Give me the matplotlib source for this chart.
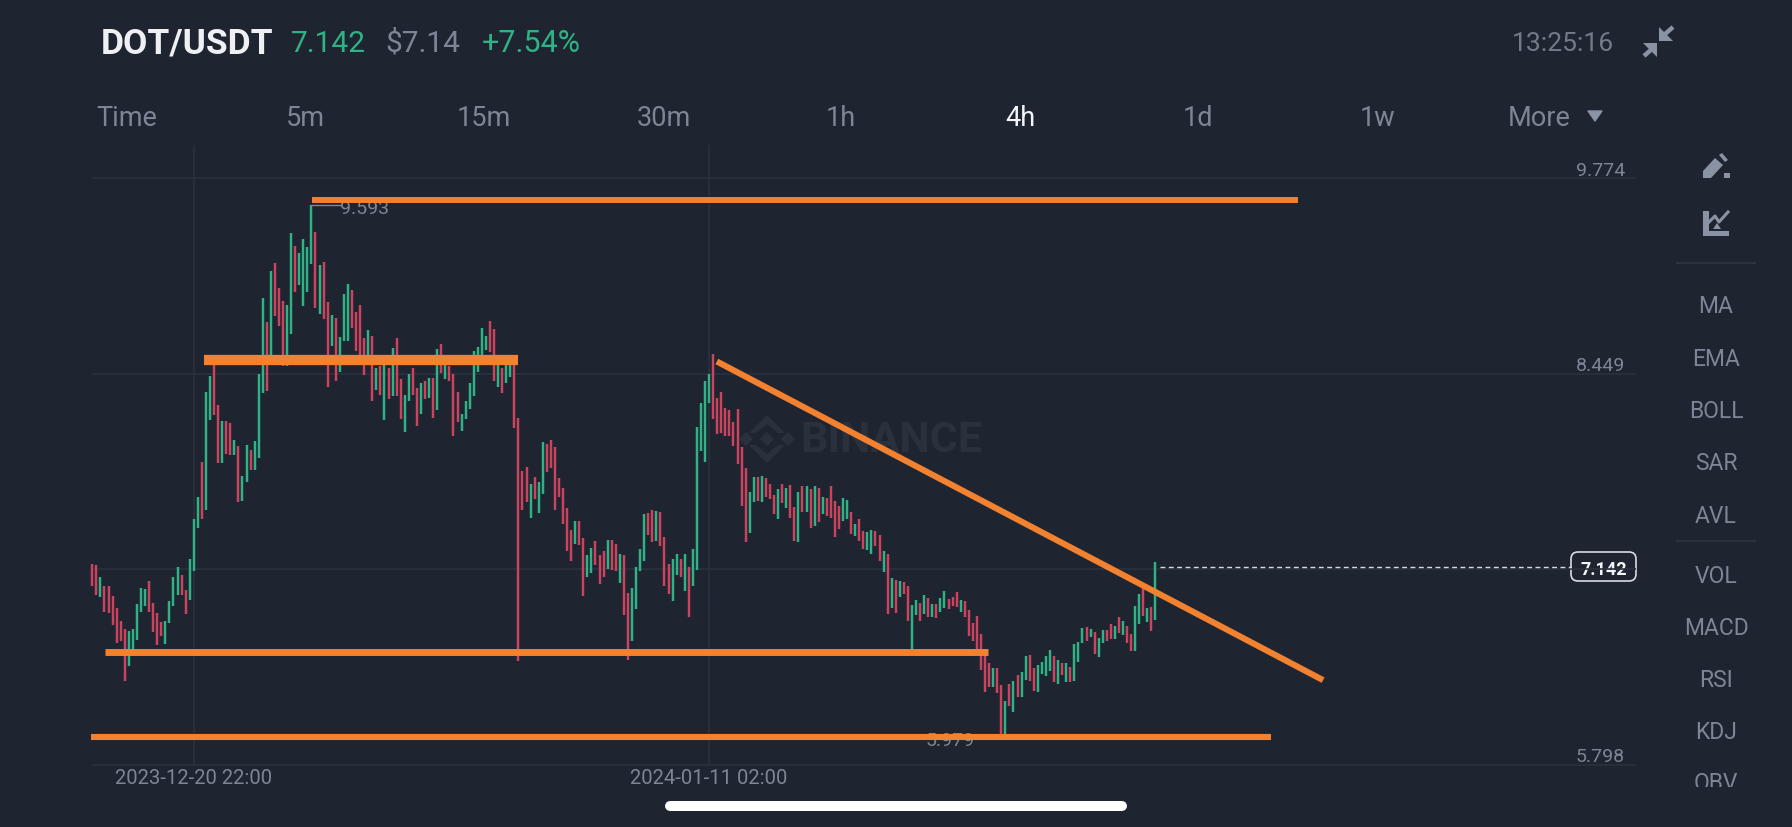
import matplotlib
matplotlib.use('Agg')
import matplotlib.pyplot as plt
from matplotlib.patches import Polygon, Rectangle, FancyBboxPatch

plt.rcParams['font.family'] = ['Roboto', 'DejaVu Sans']

# candle ranges, one pair per 4h bar (wicks are not visible at this zoom)
tops = [
    7.159, 7.154, 7.069, 7.012, 7.008, 6.940, 6.859, 6.775, 6.718, 6.703,
    6.718, 6.888, 6.998, 6.990, 7.048, 6.893, 6.825, 6.764, 6.775, 6.910,
    7.075, 7.137, 7.084, 6.985, 7.193, 7.468, 7.617, 7.852, 8.322, 8.434,
    8.575, 8.236, 8.130, 8.132, 8.114, 7.997, 7.956, 7.753, 7.965, 7.931,
    7.994, 8.446, 8.959, 8.800, 9.142, 9.198, 9.029, 8.943, 8.913, 9.401,
    9.311, 9.270, 9.365, 9.308, 9.593, 9.406, 9.187, 9.209, 8.936, 8.848,
    8.827, 8.695, 8.986, 9.060, 9.017, 8.864, 8.913, 8.688, 8.746, 8.706,
    8.491, 8.502, 8.514, 8.491, 8.622, 8.688, 8.412, 8.304, 8.446, 8.487,
    8.349, 8.385, 8.403, 8.421, 8.417, 8.616, 8.647, 8.548, 8.502, 8.446,
    8.322, 8.175, 8.265, 8.385, 8.600, 8.631, 8.762, 8.706, 8.807, 8.751,
    8.514, 8.485, 8.514, 8.528, 8.548, 8.148, 7.787, 7.814, 7.699, 7.751,
    7.715, 7.988, 7.974, 7.997, 7.952, 7.742, 7.672, 7.537, 7.387, 7.450,
    7.450, 7.337, 7.222, 7.270, 7.313, 7.222, 7.245, 7.324, 7.324, 7.295,
    7.229, 7.220, 6.963, 6.994, 7.137, 7.261, 7.498, 7.507, 7.527, 7.516,
    7.513, 7.344, 7.159, 7.193, 7.227, 7.193, 7.227, 7.137, 7.261, 8.089,
    8.250, 8.399, 8.448, 8.580, 8.286, 8.322, 8.214, 8.200, 8.119, 8.209,
    7.950, 7.810, 7.645, 7.749, 7.747, 7.753, 7.740, 7.699, 7.627, 7.667,
    7.699, 7.672, 7.694, 7.543, 7.645, 7.686, 7.686, 7.667, 7.690, 7.672,
    7.611, 7.604, 7.686, 7.588, 7.550, 7.604, 7.595, 7.509, 7.430, 7.464,
    7.385, 7.374, 7.389, 7.383, 7.356, 7.247, 7.227, 7.062, 7.053, 7.046,
    7.035, 7.008, 6.881, 6.917, 6.895, 6.951, 6.929, 6.886, 6.890, 6.929,
    6.974, 6.922, 6.934, 6.971, 6.915, 6.910, 6.847, 6.759, 6.809, 6.685,
    6.549, 6.486, 6.452, 6.455, 6.341, 6.233, 6.346, 6.364, 6.407, 6.425,
    6.538, 6.543, 6.452, 6.475, 6.497, 6.534, 6.578, 6.538, 6.509, 6.488,
    6.486, 6.461, 6.617, 6.633, 6.726, 6.730, 6.718, 6.696, 6.660, 6.712,
    6.714, 6.752, 6.737, 6.798, 6.775, 6.737, 6.685, 6.877, 6.956, 6.997,
    6.859, 6.866, 7.171,
]
bottoms = [
    7.008, 6.949, 6.937, 6.832, 6.825, 6.748, 6.624, 6.635, 6.364, 6.466,
    6.549, 6.644, 6.836, 6.876, 6.832, 6.700, 6.610, 6.669, 6.617, 6.759,
    6.872, 6.949, 6.951, 6.820, 6.915, 7.113, 7.407, 7.468, 7.527, 8.134,
    8.170, 7.843, 7.843, 7.906, 7.899, 7.897, 7.577, 7.584, 7.712, 7.798,
    7.798, 7.875, 8.317, 8.329, 8.568, 8.837, 8.773, 8.498, 8.498, 8.717,
    9.004, 9.049, 8.909, 9.000, 9.191, 8.893, 8.852, 8.819, 8.356, 8.638,
    8.403, 8.461, 8.672, 8.668, 8.762, 8.604, 8.570, 8.441, 8.548, 8.261,
    8.338, 8.306, 8.137, 8.281, 8.299, 8.299, 8.141, 8.051, 8.265, 8.306,
    8.096, 8.175, 8.277, 8.284, 8.148, 8.204, 8.453, 8.412, 8.397, 8.024,
    8.123, 8.062, 8.139, 8.209, 8.299, 8.461, 8.570, 8.611, 8.593, 8.397,
    8.360, 8.317, 8.385, 8.428, 8.081, 6.504, 7.527, 7.581, 7.471, 7.599,
    7.505, 7.633, 7.780, 7.810, 7.527, 7.615, 7.430, 7.245, 7.177, 7.295,
    7.290, 6.944, 7.069, 7.098, 7.154, 7.024, 7.073, 7.125, 7.118, 7.113,
    7.032, 6.816, 6.511, 6.639, 6.854, 7.110, 7.181, 7.358, 7.306, 7.313,
    7.279, 7.008, 6.956, 6.906, 7.084, 7.069, 6.978, 6.802, 7.008, 7.118,
    7.927, 7.852, 8.250, 8.141, 8.040, 8.047, 8.028, 8.024, 7.961, 7.837,
    7.554, 7.310, 7.369, 7.581, 7.588, 7.577, 7.611, 7.599, 7.498, 7.464,
    7.572, 7.537, 7.469, 7.317, 7.310, 7.509, 7.509, 7.405, 7.415, 7.442,
    7.498, 7.482, 7.469, 7.340, 7.396, 7.448, 7.464, 7.362, 7.347, 7.317,
    7.261, 7.254, 7.227, 7.279, 7.177, 7.107, 6.820, 6.859, 6.825, 6.934,
    6.956, 6.771, 6.572, 6.814, 6.775, 6.820, 6.798, 6.798, 6.793, 6.836,
    6.859, 6.854, 6.872, 6.866, 6.836, 6.800, 6.673, 6.639, 6.549, 6.443,
    6.294, 6.324, 6.324, 6.283, 5.979, 5.979, 6.195, 6.154, 6.260, 6.260,
    6.373, 6.368, 6.297, 6.290, 6.416, 6.402, 6.436, 6.358, 6.344, 6.407,
    6.362, 6.362, 6.368, 6.497, 6.622, 6.639, 6.662, 6.549, 6.527, 6.622,
    6.639, 6.651, 6.651, 6.690, 6.678, 6.622, 6.568, 6.568, 6.756, 6.809,
    6.764, 6.707, 6.782,
]
# G = close above open, R = close below open
directions = (
    'RRGRRRRRRG' 'GGGGRRRRGG' 'GGRRGGGRGG' 'RRGRRGRGGR' 'GGGRGRRRGG'
    'RGGGGRGRRG' 'RGGGRRRRGR' 'GRGRGRRGGR' 'RGRGRGRGRR' 'RGGGGGGGRR'
    'GRGGRRRRGR' 'GGRRRRRRRG' 'RRGGRRRGRR' 'GRRGGGGRRG' 'RRRGGRGRGG'
    'GGGRRRRRRR' 'RRGGRGRRRG' 'RGRRGRGRGR' 'GRRRRGGRGR' 'RGGRRGRGRG'
    'RRGGRGRGRG' 'GRRRGRRRRR' 'RRGRRGRGRG' 'GRRGGGGRGR' 'GRGGGRGRGG'
    'RRGRGRRGGR' 'GRG'
)

price_ticks = [9.774, 8.449, 7.123, 5.798]
price_labels = ['9.774', '8.449', None, '5.798']
time_ticks = [25, 152]
time_labels = ['2023-12-20 22:00', '2024-01-11 02:00']
last_price = 7.142
high_price = 9.593
high_bar = 54
low_price = 5.979
low_bar = 224

# hand drawn levels: first bar, last bar, price at each end, thickness
level_x = [(54.1, 297.1), (27.5, 104.8), (3.1, 220.7), (-0.2, 290.5), (153.9, 303.3)]
level_y = [(9.625, 9.625), (8.543, 8.543), (6.563, 6.563), (5.987, 5.987), (8.532, 6.373)]
level_lw = [4.3, 7.4, 5.0, 4.4, 4.4]

tabs = ['Time', '5m', '15m', '30m', '1h', '4h', '1d', '1w', 'More']
tab_x = [127, 305, 484, 664, 841, 1020, 1198, 1377, 1539]
indicators = ['MA', 'EMA', 'BOLL', 'SAR', 'AVL', 'VOL', 'MACD', 'RSI', 'KDJ', 'OBV']
indicator_y = [307, 360, 412, 464, 517, 577, 629, 681, 733, 784]

BG = '#1e2530'
GRID = '#2b323d'
GREEN = '#2fb386'
RED = '#cc4360'
ORANGE = '#f28130'
GREY = '#7d8596'
ICON = '#8a93a3'
WM = '#2a313c'

W, H = 1792, 828
BAR0, BAR_STEP = 92.3, 4.058
PLOT_L, PLOT_R, PLOT_T, PLOT_B = BAR0 - BAR_STEP / 2, 1636, 146, 766
PX_PER_PRICE = 147.6

fig = plt.figure(figsize=(W / 100, H / 100), dpi=100, facecolor=BG)

# page layer in screen pixels, sits behind the chart
ui = fig.add_axes([0, 0, 1, 1])
ui.set_xlim(0, W)
ui.set_ylim(H, 0)
ui.axis('off')

ui.text(101, 44, 'DOT/USDT', color='#eef0f4', fontsize=25.5, fontweight='bold', va='center')
ui.text(291, 44, '7.142', color=GREEN, fontsize=21.5, va='center')
ui.text(385, 44, '$7.14', color=GREY, fontsize=21.5, va='center')
ui.text(482, 44, '+7.54%', color=GREEN, fontsize=22, va='center')
ui.text(1614, 44, '13:25:16', color='#727b8a', fontsize=19, va='center', ha='right')

for name, x in zip(tabs, tab_x):
    ui.text(x, 119, name, color='#f4f5f7' if name == '4h' else GREY, fontsize=19.5,
            ha='center', va='center')
ui.add_patch(Polygon([(1588, 112), (1602, 112), (1595, 122)], closed=True, fc=ICON, ec=ICON,
                     lw=1, joinstyle='round'))

for name, y in zip(indicators, indicator_y):
    t = ui.text(1716, y, name, color=GREY, fontsize=16.5, ha='center', va='center')
    if name == 'OBV':
        t.set_clip_path(Rectangle((1600, 700), 192, 88, transform=ui.transData))
        t.set_clip_on(True)
ui.plot([1677, 1755], [264, 264], color=GRID, lw=1.5)
ui.plot([1677, 1755], [542, 542], color=GRID, lw=1.5)

# shrink icon
ui.add_patch(Polygon([(1659, 28), (1659, 42), (1673, 42)], fc=ICON, ec='none'))
ui.plot([1664, 1673], [36, 28], color=ICON, lw=3.2, solid_capstyle='butt')
ui.add_patch(Polygon([(1643, 44), (1657, 44), (1657, 58)], fc=ICON, ec='none'))
ui.plot([1653, 1644], [49, 57], color=ICON, lw=3.2, solid_capstyle='butt')
# pencil icon
ui.add_patch(Polygon([(1703, 179), (1703, 172), (1715, 159), (1723, 166), (1711, 179)], fc=ICON, ec='none'))
ui.add_patch(Polygon([(1719, 156), (1722, 154), (1728, 161), (1725, 163)], fc=ICON, ec='none'))
ui.add_patch(Rectangle((1724, 174), 6, 5, fc=ICON, ec='none'))
# study icon
ui.add_patch(Rectangle((1703, 212), 6, 25, fc=ICON, ec='none'))
ui.add_patch(Rectangle((1703, 232), 26, 5, fc=ICON, ec='none'))
ui.plot([1709, 1715, 1719, 1728], [223, 217, 223, 213], color=ICON, lw=2.2)
ui.add_patch(Polygon([(1713, 230), (1721, 230), (1717, 224)], fc=ICON, ec='none'))

# watermark
ui.add_patch(Polygon([(767, 433), (774, 440), (767, 447), (760, 440)], fc=WM, ec='none'))
ui.add_patch(Polygon([(746, 433), (753, 440), (746, 447), (739, 440)], fc=WM, ec='none'))
ui.add_patch(Polygon([(788, 433), (795, 440), (788, 447), (781, 440)], fc=WM, ec='none'))
ui.add_patch(Polygon([(767, 416), (785, 434), (778, 434), (767, 425), (756, 434), (749, 434)], fc=WM, ec='none'))
ui.add_patch(Polygon([(767, 464), (785, 446), (778, 446), (767, 455), (756, 446), (749, 446)], fc=WM, ec='none'))
ui.text(800, 441, 'BINANCE', color=WM, fontsize=31, fontweight='bold', va='center')

# home bar
ui.plot([670, 1122], [807, 807], color='white', lw=7.2, solid_capstyle='round')

# chart layer
ax = fig.add_axes([PLOT_L / W, 1 - PLOT_B / H, (PLOT_R - PLOT_L) / W, (PLOT_B - PLOT_T) / H])
ax.patch.set_alpha(0)
ax.axis('off')
right_bar = (PLOT_R - BAR0) / BAR_STEP
ax.set_xlim(-0.5, right_bar)
ax.set_ylim(5.798, 5.798 + (PLOT_B - PLOT_T) / PX_PER_PRICE)

ax.hlines(price_ticks, 0, right_bar, color=GRID, lw=1.2, clip_on=False, zorder=1)
ax.vlines(time_ticks, 5.798, ax.get_ylim()[1], color=GRID, lw=1.2, clip_on=False, zorder=1)

for p, label in zip(price_ticks, price_labels):
    if label:
        ax.annotate(label, (right_bar, p), xytext=(-11, 3.5), textcoords='offset pixels',
                    color=GREY, fontsize=14, ha='right', va='baseline', annotation_clip=False)
for i, label in zip(time_ticks, time_labels):
    ax.annotate(label, (i, 5.798), xytext=(0, -13), textcoords='offset pixels',
                color=GREY, fontsize=14.6, ha='center', va='center', annotation_clip=False)

bars = range(len(tops))
colors = [GREEN if d == 'G' else RED for d in directions]
ax.vlines(bars, bottoms, tops, colors=colors, lw=1.75, capstyle='butt', zorder=3)

# session high and low captions
ax.plot([high_bar, high_bar + 7], [high_price, high_price], color=GREY, lw=1, zorder=2)
ax.annotate(f'{high_price:.3f}', (high_bar, high_price), xytext=(29, -3), textcoords='offset pixels',
            color=GREY, fontsize=14, va='center', zorder=2)
ax.annotate(f'{low_price:.3f}', (low_bar, low_price), xytext=(-27, -2), textcoords='offset pixels',
            color=GREY, fontsize=14, ha='right', va='center', zorder=2)

# last price marker
ax.plot([len(tops), (1571 - BAR0) / BAR_STEP], [last_price, last_price], color='#d8dce2', lw=1,
        dashes=(3.5, 2.5), zorder=3)
ui.add_patch(FancyBboxPatch((1575, 557), 57, 21, boxstyle='round,pad=4,rounding_size=7',
                            fc=BG, ec='#d8dce2', lw=1.2))
ui.text(1604, 570, '7.142', color='#f4f5f7', fontsize=13, fontweight='bold', ha='center', va='center')

for xs, ys, lw in zip(level_x, level_y, level_lw):
    ax.plot(xs, ys, color=ORANGE, lw=lw, solid_capstyle='butt', clip_on=False, zorder=5)

fig.savefig('out.png', dpi=100, facecolor=fig.get_facecolor())
